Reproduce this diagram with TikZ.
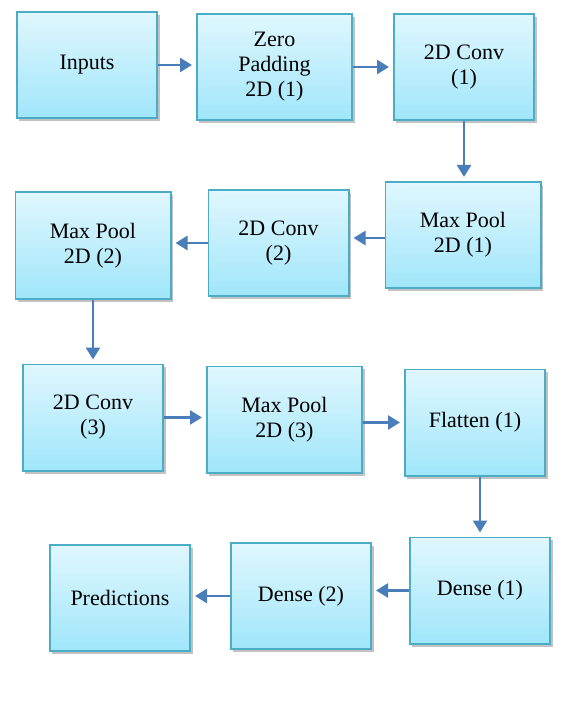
\documentclass[tikz,border=0pt]{standalone}
\usepackage{fontspec}
\setmainfont{Liberation Serif}
\usepackage{xcolor}
\usetikzlibrary{arrows.meta, positioning, shadows}

\definecolor{boxedge}{HTML}{4BACC6}
\definecolor{boxtop}{HTML}{E0F7FE}
\definecolor{boxbot}{HTML}{A0E6FA}
\definecolor{arrblue}{HTML}{4A7EBB}

\begin{document}
\begin{tikzpicture}[x=1pt, y=-1pt,
  layer/.style={draw=boxedge, line width=1.8pt, top color=boxtop, bottom color=boxbot,
                align=center, font=\fontsize{22}{25}\selectfont, inner sep=2pt,
                minimum width=140.2pt, minimum height=106.2pt,
                drop shadow={shadow xshift=2.5pt, shadow yshift=-3pt, opacity=0.4, fill=black!60}},
  wide/.style={layer, minimum width=155.2pt},
  arr/.style={-{Triangle[length=12pt, width=14pt]}, draw=arrblue, line width=2.6pt, shorten >=4pt}]

  \useasboundingbox (0,0) rectangle (563,708);

  % row 1, left to right
  \node[layer] (inp) at (87,65) {Inputs};
  \node[wide, right=38pt of inp, yshift=-2pt] (zp) {Zero\\Padding\\2D (1)};
  \node[layer, right=40pt of zp] (cv1) {2D Conv\\(1)};

  % row 2, right to left
  \node[wide, below=60pt of cv1, xshift=-1pt] (mp1) {Max Pool\\2D (1)};
  \node[layer, left=35pt of mp1, yshift=-8pt] (cv2) {2D Conv\\(2)};
  \node[wide, left=36pt of cv2, yshift=-2.5pt] (mp2) {Max Pool\\2D (2)};

  % row 3, left to right
  \node[layer, below=64pt of mp2] (cv3) {2D Conv\\(3)};
  \node[wide, right=42pt of cv3, yshift=-2pt] (mp3) {Max Pool\\2D (3)};
  \node[layer, right=41pt of mp3, yshift=-3pt] (fl) {Flatten (1)};

  % row 4, right to left
  \node[layer, below=60pt of fl, xshift=5pt] (d1) {Dense (1)};
  \node[layer, left=37pt of d1, yshift=-5.5pt] (d2) {Dense (2)};
  \node[layer, left=39pt of d2, yshift=-2pt] (pr) {Predictions};

  \draw[arr] (inp.east) -- (inp.east -| zp.west);
  \draw[arr] (zp.east)  -- (zp.east -| cv1.west);
  \draw[arr] (cv1.south) -- (cv1.south |- mp1.north);
  \draw[arr] ([yshift=-3pt]mp1.west) -- ([yshift=-3pt]mp1.west -| cv2.east);
  \draw[arr] (cv2.west) -- (cv2.west -| mp2.east);
  \draw[arr] (mp2.south) -- (mp2.south |- cv3.north);
  \draw[arr] (cv3.east) -- (cv3.east -| mp3.west);
  \draw[arr] (mp3.east |- fl.west) -- (fl.west);
  \draw[arr] (fl.south -| d1.north) -- (d1.north);
  \draw[arr] (d1.west) -- (d1.west -| d2.east);
  \draw[arr] (d2.west) -- (d2.west -| pr.east);
\end{tikzpicture}
\end{document}
